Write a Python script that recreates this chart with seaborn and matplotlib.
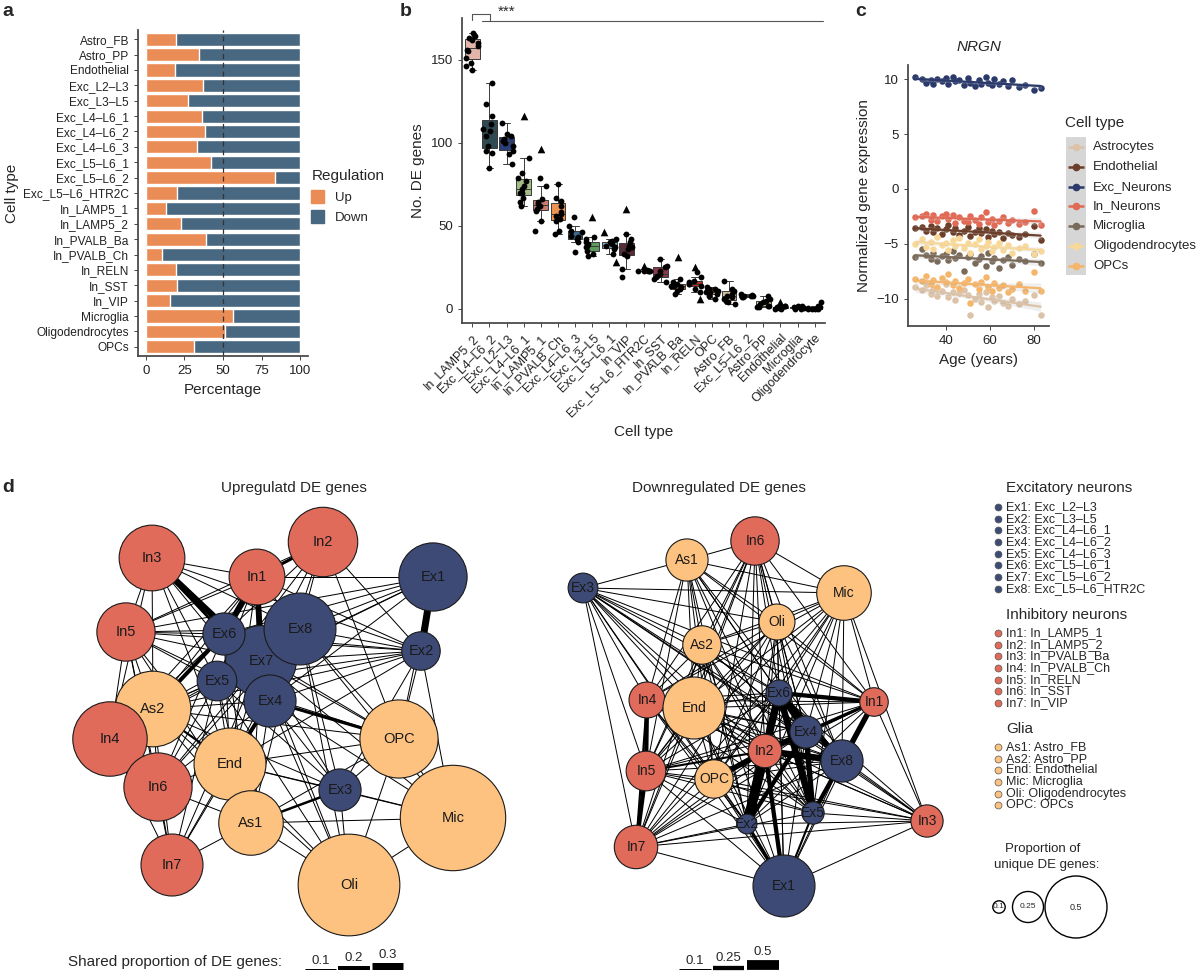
import numpy as np
import pandas as pd
import matplotlib.pyplot as plt
import seaborn as sns
from matplotlib.patches import Circle, Rectangle, Patch
from matplotlib.collections import PolyCollection

# ---------------- data ----------------
# panel a: percentage of up-regulated DE genes per cell type
a_cells = ["Astro_FB", "Astro_PP", "Endothelial", "Exc_L2–L3", "Exc_L3–L5", "Exc_L4–L6_1",
           "Exc_L4–L6_2", "Exc_L4–L6_3", "Exc_L5–L6_1", "Exc_L5–L6_2", "Exc_L5–L6_HTR2C",
           "In_LAMP5_1", "In_LAMP5_2", "In_PVALB_Ba", "In_PVALB_Ch", "In_RELN", "In_SST",
           "In_VIP", "Microglia", "Oligodendrocytes", "OPCs"]
a_up = [19.5, 34.5, 19, 37, 27.5, 36.5, 38.5, 33, 42, 83.5, 20,
        13, 23, 39, 10.5, 19.5, 20, 16, 56.5, 51, 31.5]

# panel b: number of DE genes per cell type (circles) and outliers (triangles)
b_cells = ["In_LAMP5_2", "Exc_L4–L6_2", "Exc_L2–L3", "Exc_L4–L6_1", "In_LAMP5_1", "In_PVALB_Ch",
           "Exc_L4–L6_3", "Exc_L3–L5", "Exc_L5–L6_1", "In_VIP", "Exc_L5–L6_HTR2C", "In_SST",
           "In_PVALB_Ba", "In_RELN", "OPC", "Astro_FB", "Exc_L5–L6_2", "Astro_PP",
           "Endothelial", "Microglia", "Oligodendrocyte"]
b_values = [
    [166, 164, 163, 162, 160, 158, 156, 155, 151, 148, 146, 144],
    [136, 123, 116, 111, 108, 107, 104, 98, 95, 94, 85],
    [112, 105, 104, 102, 101, 100, 98, 95, 93, 87],
    [91, 82, 79, 77, 74, 72, 70, 70, 67, 64, 62],
    [79, 74, 66, 64, 63, 62, 60, 59, 53, 47],
    [75, 67, 65, 62, 58, 57, 56, 54, 53, 47, 45],
    [55, 50, 47, 46, 44, 43, 42, 40, 34],
    [43, 42, 40, 39, 38, 37, 35, 33, 32],
    [42, 41, 40, 39, 38, 37, 36, 33],
    [45, 42, 40, 38, 37, 36, 33, 32, 24, 19],
    [23.5, 23, 23, 23, 23, 22.5],
    [30, 26, 25, 23, 21, 20, 19, 18, 16],
    [18, 16, 15, 14, 14, 13, 12, 11, 9],
    [22, 19, 17, 16, 15, 15, 14, 12, 10],
    [13, 12, 12, 11, 10, 10, 9, 8, 6],
    [17, 12, 11, 9, 8, 7, 6, 5, 4, 3],
    [9, 8.5, 8, 8, 7.5, 7, 7],
    [8, 6, 5, 4, 3, 2, 2, 1, 1],
    [2, 1.5, 1, 1, 0.5, 0, 0],
    [2, 1.5, 1, 1, 0.5, 0, 0],
    [4, 1.5, 1, 0.5, 0, 0, 0, 0],
]
tri_cells = ["Exc_L4–L6_1", "In_LAMP5_1", "Exc_L3–L5", "Exc_L5–L6_1", "Exc_L5–L6_1", "In_VIP",
             "Exc_L5–L6_HTR2C", "In_PVALB_Ba", "In_RELN", "In_RELN", "Endothelial"]
tri_values = [116, 96, 55, 46, 28, 60, 26, 31, 25, 6, 4]
b_colors = ["#e3b5aa", "#2f4a52", "#2c3e78", "#a3bb85", "#c97b6e", "#ef9450", "#3d6a8c",
            "#5f9a5d", "#7fb0bf", "#5a2c38", "#8da0a8", "#8b3948", "#d67b3e", "#b5322b",
            "#f4b655", "#cdb9a0", "#9aa7a0", "#ead3a6", "#6a3d2c", "#7a6a5c", "#f6d999"]

# panel c: NRGN expression vs age
ages = [26, 29, 31, 33, 34, 36, 38, 40, 41, 43, 44, 46, 48, 50, 51,
        53, 55, 56, 58, 59, 61, 62, 64, 66, 68, 70, 73, 76, 80, 83]
c_types = ["Astrocytes", "Endothelial", "Exc_Neurons", "In_Neurons",
           "Microglia", "Oligodendrocytes", "OPCs"]
c_values = {
    "Astrocytes": [-8.9, -9.2, -8.8, -9.6, -9.1, -9.8, -9.3, -8.7, -9.9, -9.4, -10.1, -9.5, -9.2, -9.7, -11.5,
                   -10.0, -9.6, -10.3, -9.4, -10.8, -9.9, -10.2, -9.8, -10.4, -10.7, -10.0, -10.5, -10.2, -9.7, -11.5],
    "Endothelial": [-3.6, -3.5, -3.8, -3.4, -3.9, -3.6, -4.1, -3.7, -3.3, -3.9, -3.6, -4.2, -3.8, -3.5, -4.3,
                    -3.9, -3.6, -4.0, -3.7, -4.4, -3.8, -4.1, -3.9, -4.5, -4.0, -4.2, -4.4, -4.1, -3.4, -4.7],
    "Exc_Neurons": [10.2, 10.0, 9.7, 9.9, 9.6, 10.0, 9.8, 10.1, 9.6, 10.2, 9.8, 9.9, 9.5, 10.1, 9.7,
                    9.4, 9.9, 9.6, 10.2, 9.7, 9.5, 10.0, 9.6, 9.8, 9.4, 9.9, 9.3, 9.5, 9.0, 9.2],
    "In_Neurons": [-2.6, -2.5, -2.3, -2.8, -2.4, -2.9, -2.5, -2.3, -2.7, -2.4, -3.1, -2.6, -2.9, -3.0, -2.5,
                   -2.8, -3.2, -2.6, -2.1, -3.0, -2.7, -3.3, -2.9, -2.6, -3.1, -2.8, -3.2, -3.0, -2.0, -3.3],
    "Microglia": [-6.2, -5.5, -6.0, -6.4, -5.8, -6.6, -6.1, -5.9, -6.5, -5.7, -6.3, -6.0, -7.5, -6.2, -5.9,
                  -6.8, -6.4, -6.1, -7.0, -5.8, -6.6, -6.3, -7.2, -6.5, -6.2, -6.9, -6.4, -6.6, -5.9, -6.8],
    "Oligodendrocytes": [-5.0, -4.6, -5.3, -4.8, -5.5, -4.4, -5.1, -4.9, -5.6, -4.7, -5.2, -4.5, -5.4, -4.9, -5.8,
                         -5.0, -4.6, -5.5, -5.2, -4.8, -5.7, -5.3, -4.9, -5.6, -5.1, -5.8, -5.4, -5.2, -5.9, -5.7],
    "OPCs": [-8.2, -8.4, -7.9, -8.7, -8.3, -8.9, -8.1, -8.5, -7.8, -8.8, -8.4, -9.0, -8.6, -8.2, -10.4,
             -8.7, -9.1, -8.5, -8.0, -8.9, -9.3, -8.6, -9.0, -8.8, -9.4, -9.1, -8.7, -9.3, -7.6, -9.3],
}
c_colors = ["#dcc3a8", "#6b3f2a", "#2b3a6b", "#e06a55", "#7a6a5a", "#f8d898", "#f5b56a"]

# panel d: networks (layout coordinates, node proportions, edges)
up_nodes = ["Ex7", "In3", "In2", "In1", "Ex1", "In5", "Ex6", "Ex8", "Ex2", "Ex5", "Ex4",
            "As2", "In4", "OPC", "End", "In6", "Ex3", "Mic", "As1", "In7", "Oli"]
up_lx = [261, 152, 323, 257, 433, 126, 224, 300, 421, 217, 270, 153, 110, 399, 230, 158, 340, 453, 251, 172, 349]
up_ly = [661, 558, 542, 577, 577, 632, 634, 629, 651, 681, 701, 709, 739, 739, 764, 787, 790, 818, 823, 865, 885]
up_prop = [0.57, 0.53, 0.56, 0.45, 0.55, 0.47, 0.34, 0.58, 0.31, 0.32, 0.42,
           0.61, 0.60, 0.63, 0.58, 0.55, 0.34, 0.85, 0.52, 0.50, 0.82]
up_thin = {
    "In3": "In1 Ex8 Ex5 Ex4 In5 In4 As2 End Ex2",
    "In2": "Ex7 Ex8 Ex6 Ex4 Ex5 OPC Ex2 In5",
    "In1": "Ex1 Ex8 In5 As2 Ex5 Ex4 End Ex2 In4",
    "Ex1": "Ex8 Ex7 Ex6 Ex4 In5 Ex5 OPC",
    "In5": "Ex6 Ex7 Ex8 Ex5 Ex4 Ex2 As2 End In4 In6 In7 As1",
    "Ex6": "Ex8 Ex2 End In6 OPC As1 In4",
    "Ex8": "Ex2 Ex5 As2 End OPC Ex3 Mic Oli In6 As1",
    "Ex7": "Ex2 As2 End OPC Ex3 Mic Oli In6 In4 As1 In7",
    "Ex2": "Ex4 Ex5 OPC As2 End Ex3 Mic",
    "Ex5": "As2 End In4 In6 In7 As1 OPC Ex3 Oli",
    "Ex4": "As2 In6 In7 As1 Ex3 Mic Oli",
    "As2": "In6 In7 As1 Ex3 OPC Oli",
    "In4": "In6 In7",
    "OPC": "Ex3 Mic Oli End As1",
    "End": "In6 In7 As1 Ex3 Mic Oli",
    "In6": "As1 In7",
    "Ex3": "Mic Oli",
    "Mic": "Oli As1",
    "As1": "In7 Oli",
}
up_strong = [("In3", "Ex7", 0.28), ("In1", "Ex6", 0.27), ("In1", "Ex7", 0.26), ("Ex1", "Ex2", 0.3),
             ("In1", "In2", 0.17), ("As2", "Ex6", 0.2), ("Ex6", "Ex7", 0.22), ("Ex5", "Ex7", 0.2),
             ("End", "Ex4", 0.2), ("Ex4", "OPC", 0.17), ("Ex3", "As1", 0.15), ("Ex7", "Ex4", 0.2),
             ("Ex7", "Ex8", 0.2), ("In3", "Ex6", 0.15), ("As2", "End", 0.14), ("Ex4", "Ex8", 0.15)]

down_nodes = ["In6", "As1", "Ex3", "Mic", "Oli", "As2", "In4", "End", "In1", "Ex6", "Ex4",
              "In2", "Ex8", "In5", "OPC", "Ex5", "Ex2", "In3", "In7", "Ex1"]
down_lx = [755, 687, 583, 844, 777, 702, 647, 694, 874, 779, 806, 765, 842, 646, 714, 813, 747, 927, 636, 784]
down_ly = [541, 560, 588, 593, 622, 645, 700, 708, 702, 693, 732, 751, 761, 771, 779, 813, 824, 821, 847, 886]
down_prop = [0.39, 0.34, 0.24, 0.44, 0.29, 0.31, 0.29, 0.50, 0.23, 0.21, 0.26,
             0.27, 0.34, 0.32, 0.31, 0.18, 0.16, 0.26, 0.35, 0.50]
down_thin = {
    "Ex3": "As1 Mic Oli As2 End In4 In5 In7 OPC Ex2 In2 Ex6 Ex4 Ex5 In1 Ex8 In3",
    "As1": "In6 Mic Oli As2 End In4 In5 In2 Ex6 Ex4 Ex8 Ex2 Ex5 OPC In1",
    "In6": "Mic Oli As2 End In4 In5 In2 Ex6 Ex4 Ex8 Ex5 Ex2 OPC In7 In1",
    "Mic": "Oli As2 End In4 In5 In2 Ex6 Ex4 Ex8 Ex5 Ex2 OPC In1 In3 In7",
    "Oli": "As2 End In4 In5 In2 Ex6 Ex4 Ex8 Ex5 Ex2 OPC In1 In7 Ex1",
    "As2": "End In4 In5 In2 Ex6 Ex4 Ex8 Ex5 Ex2 OPC In1 In7 Ex1",
    "End": "In2 Ex6 Ex4 Ex8 Ex5 Ex2 OPC In1 In7 Ex1 In3",
    "In4": "In2 Ex6 Ex4 Ex8 Ex5 Ex2 OPC In1 Ex1 In3",
    "In1": "Ex5 Ex2 In3 In5 OPC Ex1 In7",
    "Ex6": "Ex1 In5 OPC In7 In3",
    "Ex4": "Ex1 In5 OPC In7 In3",
    "In2": "In3 In7 Ex5",
    "Ex8": "In3 Ex1 In5 OPC In7 Ex2",
    "In5": "OPC Ex5 Ex2 In3 Ex1",
    "OPC": "Ex5 Ex2 In7 Ex1 In3",
    "Ex5": "In3 Ex1 In7",
    "Ex2": "In3 In7",
    "In3": "Ex1 In7",
    "In7": "Ex1",
}
down_strong = [("In2", "Ex2", 0.5), ("In2", "Ex6", 0.4), ("Ex6", "Ex5", 0.35), ("Ex6", "Ex8", 0.3),
               ("Ex4", "Ex5", 0.3), ("In1", "Ex8", 0.3), ("In1", "Ex6", 0.25), ("In1", "Ex4", 0.2),
               ("In2", "Ex8", 0.35), ("In2", "Ex1", 0.25), ("Ex2", "Ex1", 0.2), ("In2", "Ex4", 0.3),
               ("Ex6", "Ex4", 0.3), ("In4", "In5", 0.25), ("In5", "In7", 0.25), ("In2", "OPC", 0.3),
               ("In5", "In2", 0.15), ("Ex8", "Ex5", 0.25), ("Ex6", "Ex2", 0.3), ("Ex4", "Ex2", 0.25),
               ("Ex1", "Ex5", 0.15), ("In4", "In7", 0.15), ("End", "In5", 0.12), ("Ex3", "In5", 0.1)]

ex_legend = ["Ex1: Exc_L2–L3", "Ex2: Exc_L3–L5", "Ex3: Exc_L4–L6_1", "Ex4: Exc_L4–L6_2",
             "Ex5: Exc_L4–L6_3", "Ex6: Exc_L5–L6_1", "Ex7: Exc_L5–L6_2", "Ex8: Exc_L5–L6_HTR2C"]
in_legend = ["In1: In_LAMP5_1", "In2: In_LAMP5_2", "In3: In_PVALB_Ba", "In4: In_PVALB_Ch",
             "In5: In_RELN", "In6: In_SST", "In7: In_VIP"]
glia_legend = ["As1: Astro_FB", "As2: Astro_PP", "End: Endothelial", "Mic: Microglia",
               "Oli: Oligodendrocytes", "OPC: OPCs"]

UP_C, DOWN_C = "#ea8c55", "#486780"
RED, NAVY, ORANGE = "#e06b5b", "#3d4a75", "#fdc27f"

# ---------------- figure ----------------
sns.set_theme(style="ticks")
plt.rcParams["font.family"] = ["Liberation Sans", "DejaVu Sans"]
plt.rcParams["axes.edgecolor"] = "#444444"
plt.rcParams["xtick.color"] = "#444444"
plt.rcParams["ytick.color"] = "#444444"
plt.rcParams["xtick.labelcolor"] = "#222222"
plt.rcParams["ytick.labelcolor"] = "#222222"

W, H = 1200, 971
fig = plt.figure(figsize=(12, 9.71), dpi=100)


def px_axes(l, t, r, b):
    return fig.add_axes([l / W, 1 - b / H, (r - l) / W, (b - t) / H])


# ---- panel a ----
ax_a = px_axes(138, 30, 308, 356)
pct = pd.DataFrame({"cell": a_cells, "Up": a_up})
pct["Down"] = 100
sns.barplot(data=pct, y="cell", x="Down", color=DOWN_C, saturation=1, width=0.86, ax=ax_a)
sns.barplot(data=pct, y="cell", x="Up", color=UP_C, saturation=1, width=0.86, ax=ax_a)
ax_a.axvline(50, color="#333333", lw=0.9, ls=(0, (4, 3)))
ax_a.set_xlim(-5, 105)
ax_a.set_ylim(20.6, -0.6)
ax_a.set_xticks([0, 25, 50, 75, 100])
ax_a.tick_params(axis="y", labelsize=8.6, length=3, width=0.7)
ax_a.tick_params(axis="x", labelsize=9.5, length=3, width=0.7)
ax_a.set_xlabel("Percentage", fontsize=11)
ax_a.set_ylabel("Cell type", fontsize=11, labelpad=3)
sns.despine(ax=ax_a)
ax_a.legend(handles=[Patch(color=UP_C, label="Up"), Patch(color=DOWN_C, label="Down")],
            title="Regulation", loc="upper left", bbox_to_anchor=(306 / W, 1 - 164 / H),
            bbox_transform=fig.transFigure, frameon=False, fontsize=9.5, title_fontsize=11,
            handlelength=1.0, handleheight=1.1, borderaxespad=0, alignment="left")

# ---- panel b ----
ax_b = px_axes(462, 18, 825, 323)
df_b = pd.DataFrame({"cell": np.repeat(b_cells, [len(v) for v in b_values]),
                     "n": np.concatenate(b_values)})
df_tri = pd.DataFrame({"cell": tri_cells, "n": tri_values})
sns.boxplot(data=df_b, x="cell", y="n", hue="cell", order=b_cells, hue_order=b_cells,
            palette=b_colors, legend=False, showfliers=False, width=0.85, dodge=False,
            linewidth=0.7, linecolor="#3a3a3a", saturation=1, ax=ax_b)
np.random.seed(3)
sns.stripplot(data=df_b, x="cell", y="n", order=b_cells, color="black", size=4.2,
              jitter=0.42, linewidth=0, ax=ax_b, zorder=3)
sns.stripplot(data=df_tri, x="cell", y="n", order=b_cells, color="black", size=5.5,
              marker="^", jitter=0.42, linewidth=0, ax=ax_b, zorder=3)
ax_b.set_xlim(-0.6, 20.6)
ax_b.set_ylim(-8.5, 175)
ax_b.set_yticks([0, 50, 100, 150])
ax_b.tick_params(axis="y", labelsize=9.5, length=3, width=0.7)
ax_b.tick_params(axis="x", labelsize=9, length=3, width=0.7)
ax_b.set_xticks(range(len(b_cells)))
ax_b.set_xticklabels(b_cells, rotation=45, ha="right", rotation_mode="anchor")
ax_b.set_xlabel("Cell type", fontsize=11)
ax_b.set_ylabel("No. DE genes", fontsize=11)
sns.despine(ax=ax_b)
ax_b.plot([0, 0, 1.05, 1.05], [173.6, 177.7, 177.7, 173.1], color="#555555", lw=0.8, clip_on=False)
ax_b.plot([0.58, 20.5], [173.1, 173.1], color="#555555", lw=0.8, clip_on=False)
ax_b.text(1.5, 178.5, "***", fontsize=11, ha="left", va="center")

# ---- panel c ----
ax_c = px_axes(908, 65, 1049, 326)
for name, col in zip(c_types, c_colors):
    sns.regplot(x=ages, y=c_values[name], ax=ax_c, color=col, ci=95, seed=1,
                scatter_kws={"s": 22, "linewidths": 0, "alpha": 1, "zorder": 2},
                line_kws={"lw": 1.6, "zorder": 4})
for coll in ax_c.collections:
    if isinstance(coll, PolyCollection):
        coll.set_facecolor((0.6, 0.6, 0.6, 0.35))
        coll.set_zorder(3)
ax_c.set_xlim(22.7, 86.8)
ax_c.set_ylim(-12.5, 11.3)
ax_c.set_xticks([40, 60, 80])
ax_c.set_yticks([-10, -5, 0, 5, 10])
ax_c.tick_params(labelsize=9.5, length=3, width=0.7)
ax_c.set_xlabel("Age (years)", fontsize=11)
ax_c.set_ylabel("Normalized gene expression", fontsize=11)
ax_c.set_title("NRGN", fontsize=11, style="italic", pad=10)
sns.despine(ax=ax_c)

# ---- overlay in pixel coordinates (panel d, labels, legends) ----
ov = fig.add_axes([0, 0, 1, 1])
ov.set_xlim(0, W)
ov.set_ylim(H, 0)
ov.axis("off")

for lab, x in [("a", 2), ("b", 400), ("c", 855)]:
    ov.text(x, 11, lab, fontsize=14, fontweight="bold", va="center")
ov.text(2, 487, "d", fontsize=14, fontweight="bold", va="center")

# panel c legend (drawn by hand to get the grey key background)
ov.text(1065, 123, "Cell type", fontsize=11, va="center")
ov.add_patch(Rectangle((1066, 137), 20, 138, fc="#d6d6d6", ec="none"))
for i, (name, col) in enumerate(zip(c_types, c_colors)):
    y = 147 + i * 19.8
    ov.plot([1068, 1084], [y, y], color=col, lw=1.8, solid_capstyle="butt")
    ov.plot([1076], [y], "o", color=col, ms=4.5)
    ov.text(1093, y, name, fontsize=9.5, va="center")


def group_color(n):
    return NAVY if n.startswith("Ex") else RED if n.startswith("In") else ORANGE


def draw_network(nodes, lx, ly, prop, thin, strong, width_fn, fs):
    pos = {n: (x, y) for n, x, y in zip(nodes, lx, ly)}
    weights = {}
    for a, nbrs in thin.items():
        for b in nbrs.split():
            weights[frozenset((a, b))] = 0.1
    for a, b, v in strong:
        weights[frozenset((a, b))] = v
    for pair, v in sorted(weights.items(), key=lambda kv: kv[1]):
        a, b = tuple(pair)
        ov.plot([pos[a][0], pos[b][0]], [pos[a][1], pos[b][1]], color="black",
                lw=width_fn(v) * 0.72, zorder=1, solid_capstyle="butt")
    for k, (n, p) in enumerate(zip(nodes, prop)):
        ov.add_patch(Circle(pos[n], 62 * p, fc=group_color(n), ec="#1a1a1a", lw=0.8, zorder=2 + k * 0.01))
        ov.text(pos[n][0], pos[n][1], n, ha="center", va="center", fontsize=fs,
                color="#1a1a1a", zorder=3)


up_w = lambda v: max(30 * v - 2, 0.9)
down_w = lambda v: max(22 * v - 1.2, 0.9)
draw_network(up_nodes, up_lx, up_ly, up_prop, up_thin, up_strong, up_w, 10.5)
draw_network(down_nodes, down_lx, down_ly, down_prop, down_thin, down_strong, down_w, 10)
ov.text(294, 488, "Upregulatd DE genes", fontsize=11, ha="center", va="center")
ov.text(719, 488, "Downregulated DE genes", fontsize=11, ha="center", va="center")

# edge width legends
ov.text(68, 962, "Shared proportion of DE genes:", fontsize=11, va="center")
for v, x0, x1 in [(0.1, 305, 336), (0.2, 338, 370), (0.3, 372, 403)]:
    w = up_w(v)
    ov.plot([x0, x1], [970 - w / 2] * 2, color="black", lw=w * 0.72, solid_capstyle="butt")
    ov.text((x0 + x1) / 2, 968 - w, f"{v:g}", fontsize=9.5, ha="center", va="bottom")
for v, x0, x1 in [(0.1, 679, 711), (0.25, 713, 744), (0.5, 747, 779)]:
    w = down_w(v)
    ov.plot([x0, x1], [970 - w / 2] * 2, color="black", lw=w * 0.72, solid_capstyle="butt")
    ov.text((x0 + x1) / 2, 968 - w, f"{v:g}", fontsize=9.5, ha="center", va="bottom")

# group legend
for title, items, col, y0, y_items in [("Excitatory neurons", ex_legend, NAVY, 488, 507),
                                       ("Inhibitory neurons", in_legend, RED, 615, 633),
                                       ("Glia", glia_legend, ORANGE, 729, 747)]:
    ov.text(1006, y0, title, fontsize=11, va="center")
    for i, s in enumerate(items):
        y = y_items + i * 11.7
        ov.plot([998], [y], "o", ms=5, mfc=col, mec="#555555", mew=0.5)
        ov.text(1006, y, s, fontsize=9, va="center")

ov.text(1005, 849, "Proportion of", fontsize=9.5, va="center")
ov.text(994, 865, "unique DE genes:", fontsize=9.5, va="center")
for p, x in [(0.1, 999), (0.25, 1028), (0.5, 1076)]:
    ov.add_patch(Circle((x, 907), 62 * p, fc="white", ec="black", lw=1.0))
    ov.text(x, 907, f"{p:g}", fontsize=6 if p < 0.5 else 6.5, ha="center", va="center")

fig.savefig("out.png", dpi=100)
